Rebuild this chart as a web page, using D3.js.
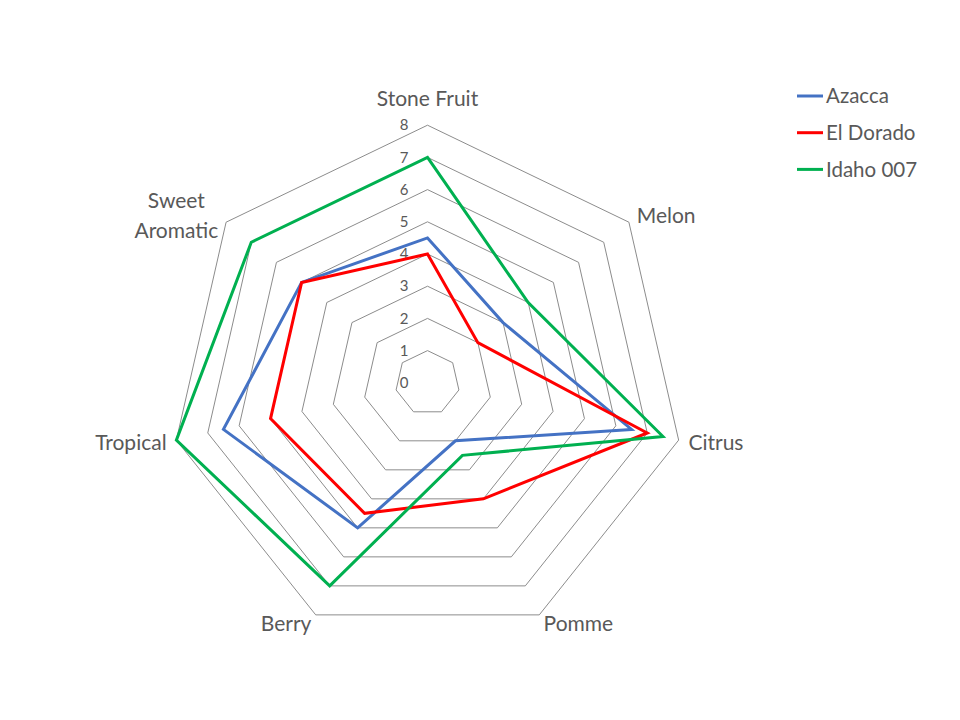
<!DOCTYPE html>
<html>
<head>
    <meta charset="utf-8">
    <title>Hop Aroma Radar</title>
    <script src="https://d3js.org/d3.v7.min.js"></script>
    <style>
        body {
            margin: 0;
            padding: 0;
            background-color: #ffffff;
            font-family: Lato, "Open Sans", sans-serif;
        }
        .grid {
            fill: none;
            stroke: #8c8c8c;
            stroke-width: 1;
        }
        .series {
            fill: none;
            stroke-width: 3;
            stroke-linejoin: miter;
        }
        .cat {
            fill: #595959;
            font-size: 21px;
        }
        .legend text {
            fill: #595959;
            font-size: 20.5px;
        }
        .tick {
            fill: #595959;
            font-size: 15px;
        }
    </style>
</head>
<body>
    <div id="chart"></div>

    <script>
        // aroma categories, clockwise from the top
        var categories = ["Stone Fruit", "Melon", "Citrus", "Pomme", "Berry", "Tropical", "Sweet Aromatic"];
        var seriesNames = ["Azacca", "El Dorado", "Idaho 007"];
        var azacca   = [4.5, 3, 6.5, 2, 5, 6.5, 5];
        var elDorado = [4, 2, 7, 4, 4.5, 5, 5];
        var idaho007 = [7, 4, 7.5, 2.5, 7, 8, 7];
        var tickValues = [0, 1, 2, 3, 4, 5, 6, 7, 8];
        var colors = ["#4472C4", "#FF0000", "#00B050"];

        var width = 960, height = 720;
        var cx = 427.5, cy = 382.8, radius = 257.6;

        var series = [azacca, elDorado, idaho007].map(function(vals, i) {
            return { name: seriesNames[i], values: vals, color: colors[i] };
        });

        var svg = d3.select("#chart")
            .append("svg")
            .attr("width", width)
            .attr("height", height);

        var g = svg.append("g")
            .attr("transform", "translate(" + cx + "," + cy + ")");

        var rScale = d3.scaleLinear().domain([0, 8]).range([0, radius]);
        var angle = d3.scalePoint()
            .domain(categories)
            .range([0, 2 * Math.PI * (categories.length - 1) / categories.length]);

        var radial = d3.lineRadial()
            .angle(function(d) { return angle(d.cat); })
            .radius(function(d) { return rScale(d.v); })
            .curve(d3.curveLinearClosed);

        // grid rings
        g.selectAll(".grid")
            .data(tickValues.slice(1))
            .enter().append("path")
            .attr("class", "grid")
            .attr("d", function(t) {
                return radial(categories.map(function(c) { return { cat: c, v: t }; }));
            });

        // tick labels along the top axis
        g.selectAll(".tick")
            .data(tickValues)
            .enter().append("text")
            .attr("class", "tick")
            .attr("x", -19)
            .attr("y", function(t) { return -rScale(t); })
            .attr("dy", "0.35em")
            .attr("text-anchor", "end")
            .text(function(t) { return t; });

        // series lines
        g.selectAll(".series")
            .data(series)
            .enter().append("path")
            .attr("class", "series")
            .attr("stroke", function(d) { return d.color; })
            .attr("d", function(d) {
                return radial(d.values.map(function(v, i) { return { cat: categories[i], v: v }; }));
            });

        // category labels
        categories.forEach(function(c) {
            var a = angle(c) - Math.PI / 2;
            var cos = Math.cos(a), sin = Math.sin(a);
            var vx = rScale(8) * cos, vy = rScale(8) * sin;
            var lx = vx + 10 * cos, ly = vy + 10 * sin;
            var anchor = Math.abs(cos) < 0.1 ? "middle" : (cos > 0 ? "start" : "end");
            if (sin < -0.95) ly = vy - 27;
            var words = c === "Sweet Aromatic" ? ["Sweet", "Aromatic"] : [c];
            var t = g.append("text")
                .attr("class", "cat")
                .attr("text-anchor", anchor)
                .attr("x", lx)
                .attr("y", ly);
            if (words.length > 1) {
                t.attr("text-anchor", "middle");
                var tmp = t.append("tspan").text(words[1]);
                var w = tmp.node().getComputedTextLength();
                tmp.remove();
                var mx = lx - w / 2;
                words.forEach(function(wd, i) {
                    t.append("tspan")
                        .attr("x", mx)
                        .attr("y", ly + (i - 0.5) * 30)
                        .attr("dy", "0.35em")
                        .text(wd);
                });
            } else {
                t.attr("dy", "0.35em").text(c);
            }
        });

        // legend
        var legend = svg.append("g")
            .attr("class", "legend")
            .attr("transform", "translate(797,96)");

        var item = legend.selectAll("g")
            .data(series)
            .enter().append("g")
            .attr("transform", function(d, i) { return "translate(0," + (i * 36.7) + ")"; });

        item.append("line")
            .attr("x1", 0).attr("x2", 26)
            .attr("stroke", function(d) { return d.color; })
            .attr("stroke-width", 3);

        item.append("text")
            .attr("x", 29)
            .attr("dy", "0.35em")
            .text(function(d) { return d.name; });
    </script>
</body>
</html>
